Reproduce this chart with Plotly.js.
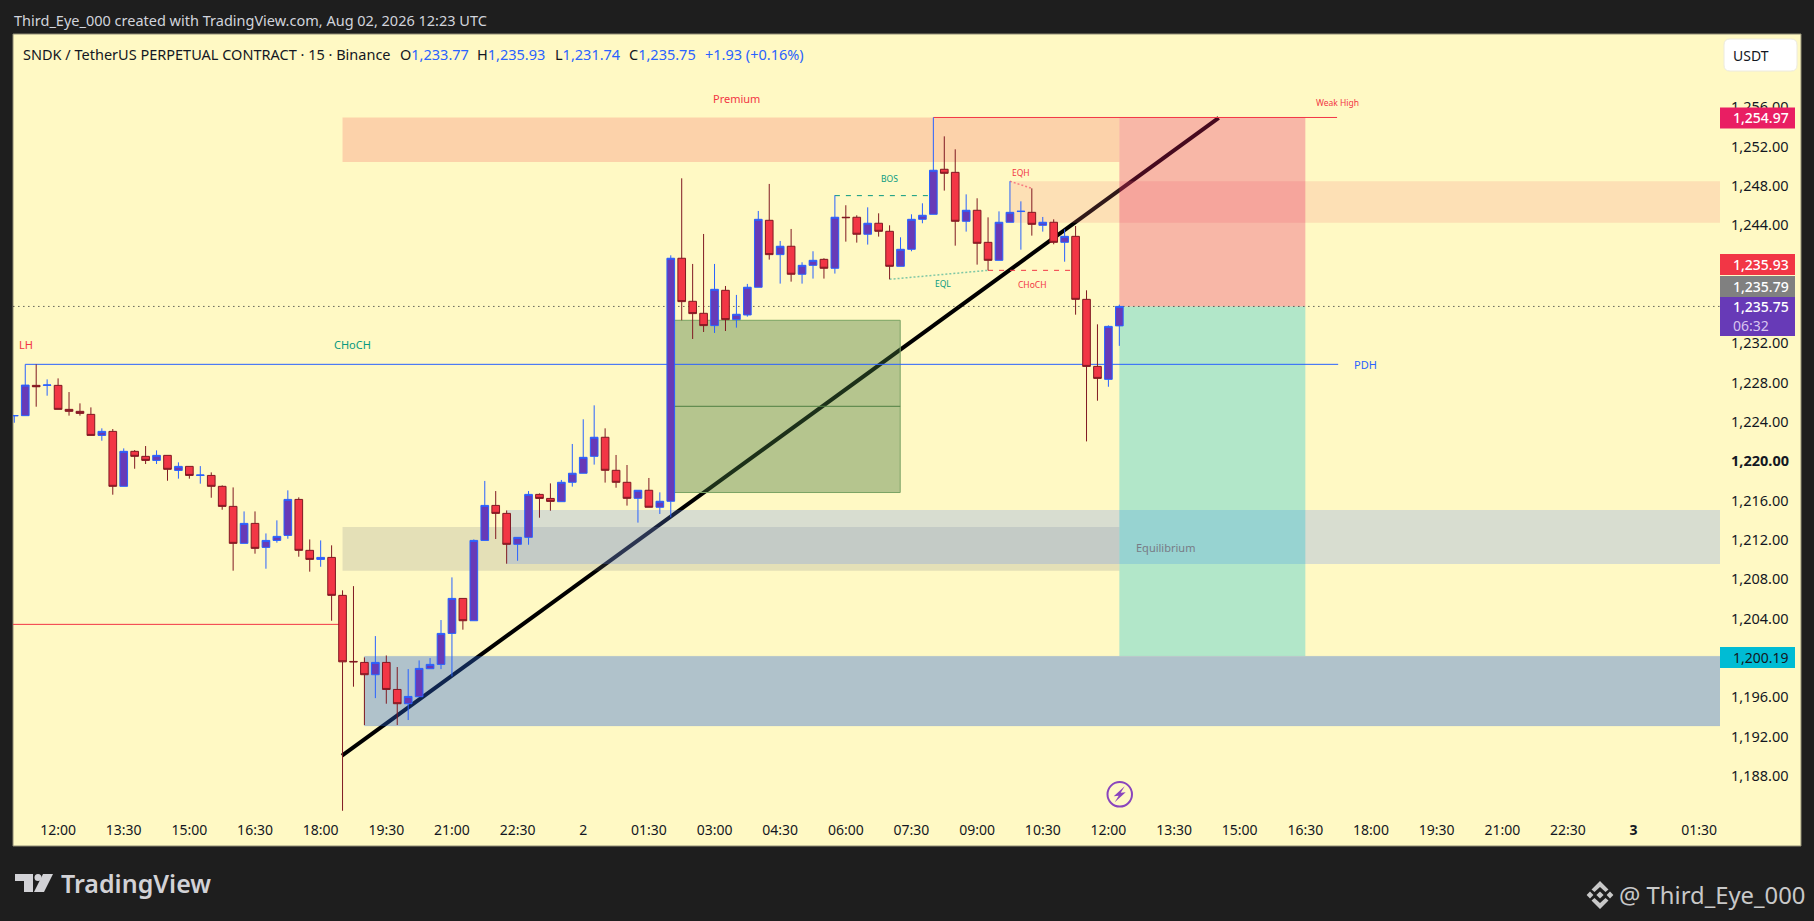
<!DOCTYPE html>
<html>
<head>
<meta charset="utf-8">
<script src="https://cdn.plot.ly/plotly-3.0.1.min.js"></script>
<style>html,body{margin:0;padding:0;background:#1e1e1e;overflow:hidden}#chart{width:1814px;height:921px}</style>
</head>
<body>
<div id="chart"></div>
<script>
const opens = [1224.62,1224.64,1227.72,1227.72,1227.72,1225.28,1225.08,1224.77,1222.63,1223.04,
1217.45,1221.01,1220.5,1220.09,1220.6,1219.07,1219.48,1218.56,1218.56,1217.45,
1215.41,1211.65,1213.68,1211.24,1211.95,1212.46,1216.12,1210.94,1210.02,1210.22,
1206.36,1199.64,1199.54,1198.29,1199.54,1196.79,1195.34,1196.05,1198.9,1199.34,
1202.49,1206.05,1203.78,1211.95,1215.51,1214.7,1211.55,1212.26,1216.63,1216.22,
1215.89,1217.86,1218.78,1220.5,1222.44,1219.08,1217.86,1216.23,1217.05,1215.32,
1215.93,1240.65,1236.27,1235.05,1233.8,1237.39,1234.41,1234.88,1237.7,1244.51,
1241.02,1241.87,1239.02,1239.93,1240.54,1239.63,1244.82,1244.82,1243.09,1244.21,
1243.39,1239.83,1241.56,1244.61,1245.12,1249.7,1249.39,1244.41,1245.53,1242.27,
1240.44,1244.31,1245.4,1245.32,1244.0,1244.31,1242.27,1242.88,1236.47,1229.65,
1228.33,1233.77];
const highs = [1224.7,1229.86,1229.86,1228.33,1228.43,1227.04,1225.89,1225.48,1223.35,1223.28,
1221.31,1221.14,1221.55,1221.11,1220.6,1219.89,1219.48,1219.51,1218.87,1217.55,
1217.34,1214.9,1214.9,1212.66,1213.99,1217.04,1216.33,1212.05,1211.95,1211.45,
1206.87,1207.3,1200.05,1202.22,1200.25,1199.07,1198.86,1199.74,1199.98,1203.85,
1208.19,1206.05,1212.05,1218.0,1216.97,1215.0,1212.26,1216.97,1216.73,1217.75,
1218.1,1221.76,1224.27,1225.69,1223.35,1220.64,1219.62,1217.05,1218.3,1216.84,
1240.95,1248.78,1240.07,1243.12,1240.07,1237.83,1236.92,1238.04,1245.46,1248.21,
1242.41,1243.63,1240.24,1241.36,1240.65,1247.06,1246.04,1245.02,1245.83,1245.22,
1244.0,1242.78,1245.12,1246.24,1254.97,1253.05,1251.73,1247.15,1246.75,1244.81,
1245.42,1248.48,1246.44,1247.76,1244.85,1244.61,1243.59,1243.93,1237.39,1233.93,
1233.82,1235.93];
const lows = [1223.92,1224.64,1225.55,1226.67,1225.28,1224.64,1224.64,1222.63,1222.09,1216.6,
1217.45,1219.24,1219.72,1219.72,1218.02,1218.23,1218.23,1217.72,1216.29,1215.07,
1208.87,1211.65,1210.6,1209.07,1211.72,1212.12,1210.29,1208.77,1209.27,1203.78,
1184.45,1197.07,1193.17,1195.91,1195.34,1193.17,1193.68,1196.05,1198.9,1198.86,
1198.12,1202.87,1203.78,1211.95,1212.09,1209.58,1209.88,1211.51,1214.26,1214.97,
1215.89,1217.42,1218.78,1219.66,1217.83,1217.31,1215.49,1213.76,1215.32,1214.64,
1214.3,1234.34,1232.44,1233.15,1233.05,1233.25,1233.59,1234.71,1237.7,1240.51,
1238.07,1238.27,1238.07,1238.58,1238.58,1239.09,1242.34,1242.24,1242.04,1242.85,
1238.51,1239.83,1241.36,1244.21,1245.12,1247.53,1241.93,1243.36,1240.0,1239.42,
1240.44,1244.31,1241.52,1242.95,1243.36,1242.07,1240.3,1234.91,1222.02,1226.16,
1227.58,1231.74];
const closes = [1224.65,1227.75,1227.58,1227.76,1225.28,1225.08,1224.87,1222.63,1223.04,1217.45,
1221.01,1220.5,1220.09,1220.6,1219.18,1219.48,1218.56,1218.6,1217.45,1215.41,
1211.65,1213.68,1211.14,1211.95,1212.36,1216.12,1210.94,1210.02,1210.22,1206.36,
1199.6,1199.6,1198.29,1199.54,1196.79,1195.34,1196.08,1198.93,1199.34,1202.49,
1206.05,1203.78,1211.95,1215.51,1214.7,1211.55,1212.26,1216.63,1216.22,1215.92,
1217.86,1218.78,1220.4,1222.44,1219.08,1217.86,1216.23,1217.05,1215.32,1215.93,
1240.65,1236.24,1235.02,1233.8,1237.49,1234.41,1234.95,1237.7,1244.61,1241.02,
1241.87,1239.02,1239.93,1240.44,1239.63,1244.82,1244.78,1243.09,1244.21,1243.39,
1239.83,1241.56,1244.61,1245.02,1249.6,1249.29,1244.41,1245.53,1242.17,1240.44,
1244.31,1245.32,1245.43,1244.1,1244.31,1242.27,1242.88,1236.47,1229.65,1228.43,
1233.72,1235.75];

const timeTickBars = [4,10,16,22,28,34,40,46,52,58,64,70,76,82,88,94,100,106,112,118,124,130,136,142,148,154];
const timeTickLabels = ['12:00','13:30','15:00','16:30','18:00','19:30','21:00','22:30','2','01:30','03:00','04:30','06:00','07:30','09:00','10:30','12:00','13:30','15:00','16:30','18:00','19:30','21:00','22:30','<b>3</b>','01:30'];
const priceTicks = [1188,1192,1196,1200,1204,1208,1212,1216,1220,1224,1228,1232,1236,1240,1244,1248,1252,1256];
const priceTickLabels = ['1,188.00','1,192.00','1,196.00','','1,204.00','1,208.00','1,212.00','1,216.00','<b>1,220.00</b>','1,224.00','1,228.00','1,232.00','','','1,244.00','1,248.00','1,252.00','1,256.00'];

const W=1814,H=921,PL=13,PR=1720,PT=34,PB=815;
const FONT='"Noto Sans", sans-serif';
const barTime = i => new Date(Date.UTC(2026,7,1,11,0)+i*900000).toISOString().replace('T',' ').replace('Z','');
const px = x => (x-PL)/(PR-PL);
const py = y => (PB-y)/(PB-PT);
const poly = pts => 'M '+pts.map(p=>px(p[0])+' '+py(p[1])).join(' L ')+' Z';
const poly0 = (cx,cy,pts) => poly(pts.map(p=>[cx+p[0],cy+p[1]]));
const roundRect=(x0,y0,x1,y1,r)=>`M ${px(x0+r)} ${py(y0)} L ${px(x1-r)} ${py(y0)} Q ${px(x1)} ${py(y0)} ${px(x1)} ${py(y0+r)} L ${px(x1)} ${py(y1-r)} Q ${px(x1)} ${py(y1)} ${px(x1-r)} ${py(y1)} L ${px(x0+r)} ${py(y1)} Q ${px(x0)} ${py(y1)} ${px(x0)} ${py(y1-r)} L ${px(x0)} ${py(y0+r)} Q ${px(x0)} ${py(y0)} ${px(x0+r)} ${py(y0)} Z`;

const trace={type:'candlestick',x:opens.map((_,i)=>barTime(i)),open:opens,high:highs,low:lows,close:closes,
  increasing:{line:{color:'#2962ff',width:1},fillcolor:'#673ab7'},
  decreasing:{line:{color:'#801922',width:1},fillcolor:'#f23645'},
  whiskerwidth:0,hoverinfo:'skip',showlegend:false};

const band=(i0,i1,p0,p1,fill,line)=>({type:'rect',xref:'x',yref:'y',layer:'below',x0:barTime(i0),x1:barTime(i1),y0:p0,y1:p1,fillcolor:fill,line:line||{width:0}});
const seg=(i0,p0,i1,p1,color,width,dash)=>({type:'line',xref:'x',yref:'y',layer:'below',x0:barTime(i0),x1:barTime(i1),y0:p0,y1:p1,line:{color,width,dash:dash||'solid'}});
const rectPx=(x0,y0,x1,y1,fill,layer,line)=>({type:'rect',xref:'paper',yref:'paper',layer:layer||'above',x0:px(x0),x1:px(x1),y0:py(y0),y1:py(y1),fillcolor:fill,line:line||{width:0}});
const pathPx=(path,fill,layer,line)=>({type:'path',xref:'paper',yref:'paper',layer:layer||'above',path,fillcolor:fill,line:line||{width:0}});

const END=156;
const shapes=[
  rectPx(13,34,1801,846,'#fff9c4','below',{color:'#8f8c74',width:1}),
  seg(29.95,1190.05,110.08,1254.92,'#000000',4),
  band(30,101,1254.97,1250.44,'rgba(245,120,110,0.30)'),
  band(91,END,1248.48,1244.27,'rgba(245,125,125,0.20)'),
  band(30,101,1213.31,1208.87,'rgba(120,123,134,0.20)'),
  band(45,END,1215.04,1209.55,'rgba(100,140,244,0.25)'),
  band(101,118,1254.97,1235.75,'rgba(233,30,99,0.30)'),
  band(101,118,1235.75,1200.19,'rgba(0,188,212,0.30)'),
  band(32,END,1200.15,1193.1,'rgba(41,100,215,0.37)',{color:'rgba(41,98,215,0.18)',width:1}),
  band(60,80.97,1234.34,1216.82,'rgba(70,120,62,0.40)',{color:'#7aa364',width:1}),
  seg(60,1225.59,80.97,1225.59,'#4f7f43',1),
  seg(1,1229.86,121,1229.86,'#2962ff',1),
  seg(84,1254.97,120.9,1254.97,'#f23645',1),
  seg(-1,1203.41,30,1203.41,'#f23645',1),
  seg(75,1247.02,83.5,1247.02,'#089981',1,'5px,6px'),
  seg(80,1238.51,89,1239.42,'#7fc7a5',1.5,'2px,2px'),
  seg(91,1248.48,93,1247.76,'#f77c80',1.5,'2px,2px'),
  seg(89,1239.42,96.6,1239.42,'#f23645',1,'5px,6px'),
  seg(-1,1235.75,END,1235.75,'#131722',1,'1px,4px'),
  // price badges
  rectPx(1720,107.5,1795,128.5,'#e91e63'),
  rectPx(1720,254,1795,275,'#f23645'),
  rectPx(1720,276,1795,297,'#808080'),
  rectPx(1720,297,1795,336,'#673ab7'),
  rectPx(1720,647,1795,668,'#00bcd4'),
  // currency button
  pathPx(roundRect(1724,39,1797,71,6),'#ffffff','above',{color:'#eceadf',width:1}),
  // session icon
  {type:'circle',xref:'paper',yref:'paper',layer:'above',x0:px(1107.5),x1:px(1132),y0:py(782),y1:py(806.6),fillcolor:'rgba(0,0,0,0)',line:{color:'#8a45bd',width:2}},
  pathPx(poly0(1119.7,794.3,[[5,-8],[-6,2],[-1,1.5],[-5,8],[6,-2],[1,-1.5]]),'#8a45bd'),
  // TradingView logo
  pathPx(poly([[15,874],[33,874],[33,892],[24,892],[24,881],[15,881]]),'#d2d2d6'),
  {type:'circle',xref:'paper',yref:'paper',layer:'above',x0:px(34.5),x1:px(41.5),y0:py(874),y1:py(881),fillcolor:'#d2d2d6',line:{width:0}},
  pathPx(poly([[43,874],[53,874],[44,892],[34,892]]),'#d2d2d6'),
  // exchange logo
  pathPx(poly0(1600,895,[[0,-3.6],[3.6,0],[0,3.6],[-3.6,0]]),'#c8c8c8'),
  pathPx(poly0(1590,895,[[0,-3.4],[3.4,0],[0,3.4],[-3.4,0]]),'#c8c8c8'),
  pathPx(poly0(1610,895,[[0,-3.4],[3.4,0],[0,3.4],[-3.4,0]]),'#c8c8c8'),
  pathPx(poly0(1600,895,[[0,-14],[8.5,-5.5],[5.5,-3],[0,-8],[-5.5,-3],[-8.5,-5.5]]),'#c8c8c8'),
  pathPx(poly0(1600,895,[[0,14],[8.5,5.5],[5.5,3],[0,8],[-5.5,3],[-8.5,5.5]]),'#c8c8c8')
];

const noteData=(i,price,text,color,size)=>({xref:'x',yref:'y',x:barTime(i),y:price,text,showarrow:false,xanchor:'center',yanchor:'middle',font:{family:FONT,size,color}});
const notePx=(x,y,text,color,size,anchor,weight)=>({xref:'paper',yref:'paper',x:px(x),y:py(y),text,showarrow:false,xanchor:anchor||'left',yanchor:'middle',font:{family:FONT,size,color,weight:weight||400}});
const BLUE='#2962ff';
const sp=t=>`<span style="color:${BLUE}">${t}</span>`;
const annotations=[
  notePx(12,19.5,'Third_Eye_000 created with TradingView.com, Aug 02, 2026 12:23 UTC','#d1d4dc',14.5),
  notePx(21,54,'SNDK / TetherUS PERPETUAL CONTRACT · 15 · Binance','#131722',14.5),
  notePx(398,54,'O'+sp('1,233.77'),'#131722',14.5),
  notePx(475,54,'H'+sp('1,235.93'),'#131722',14.5),
  notePx(553,54,'L'+sp('1,231.74'),'#131722',14.5),
  notePx(627,54,'C'+sp('1,235.75'),'#131722',14.5),
  notePx(703,54,sp('+1.93 (+0.16%)'),'#131722',14.5),
  notePx(1731,55,'USDT','#131722',14),
  notePx(59,883.5,'TradingView','#d2d2d6',25,'left',600),
  notePx(1617,895,'@ Third_Eye_000','#c8c8c8',23.8),
  notePx(1731,118,'1,254.97','#ffffff',14,'left',500),
  notePx(1731,264.5,'1,235.93','#ffffff',14,'left',500),
  notePx(1731,286.5,'1,235.79','#ffffff',14,'left',500),
  notePx(1731,306.5,'1,235.75','#ffffff',14,'left',500),
  notePx(1731,325.5,'06:32','#d9c5ef',14),
  notePx(1731,657.5,'1,200.19','#131722',14),
  noteData(66,1256.95,'Premium','#f23645',11),
  noteData(120.9,1256.5,'Weak High','#f23645',8.5),
  noteData(1.1,1231.85,'LH','#f23645',11),
  noteData(30.9,1231.85,'CHoCH','#089981',11),
  noteData(123.5,1229.86,'PDH','#2962ff',11),
  noteData(80,1248.75,'BOS','#089981',8.5),
  noteData(84.9,1238.1,'EQL','#089981',8.5),
  noteData(92,1249.4,'EQH','#f23645',8.5),
  noteData(93,1238.0,'CHoCH','#f23645',8.5),
  noteData(105.2,1211.2,'Equilibrium','#787b86',11)
];

const layout={
  width:W,height:H,paper_bgcolor:'#1e1e1e',plot_bgcolor:'rgba(0,0,0,0)',
  margin:{l:PL,r:W-PR,t:PT,b:H-PB,autoexpand:false},showlegend:false,dragmode:false,
  boxgap:0.3,boxgroupgap:0,boxmode:'overlay',
  xaxis:{type:'date',range:[barTime(-0.12),barTime(155.9)],rangeslider:{visible:false},showgrid:false,zeroline:false,showline:false,
    tickmode:'array',tickvals:timeTickBars.map(barTime),ticktext:timeTickLabels,ticks:'',ticklabelstandoff:5,tickfont:{family:FONT,size:14,color:'#131722'}},
  yaxis:{type:'linear',side:'right',range:[1184.02,1263.46],showgrid:false,zeroline:false,showline:false,
    tickmode:'array',tickvals:priceTicks,ticktext:priceTickLabels,ticks:'',ticklabelstandoff:10,tickfont:{family:FONT,size:14.5,color:'#131722'}},
  shapes,annotations
};
Plotly.newPlot('chart',[trace],layout,{staticPlot:true,displayModeBar:false});
</script>
</body>
</html>
